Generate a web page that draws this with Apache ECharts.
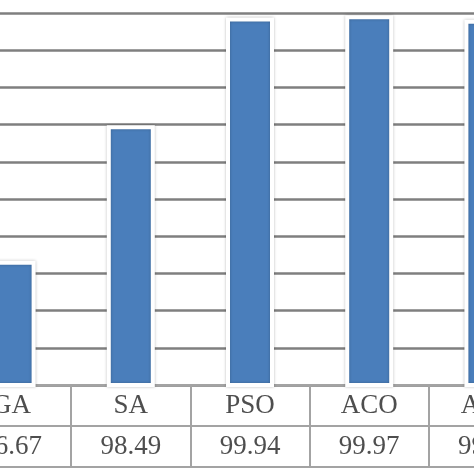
<!DOCTYPE html>
<html>
<head>
<meta charset="utf-8">
<script src="https://cdn.jsdelivr.net/npm/echarts@6/dist/echarts.min.js"></script>
<style>
  html, body { margin: 0; padding: 0; background: #fff; }
  #main { width: 474px; height: 474px; }
</style>
</head>
<body>
<div id="main"></div>
<script>
// data
var categories = ['GA', 'SA', 'PSO', 'ACO', 'ABC'];
var values = [96.67, 98.49, 99.94, 99.97, 99.91];
var valueLabels = ['96.67', '98.49', '99.94', '99.97', '99.91'];

var chart = echarts.init(document.getElementById('main'));

// text cells of the table under the bars
var cells = [];
for (var i = 0; i < categories.length; i++) {
    cells.push([i + 0.5, 0.5, categories[i]]);
    cells.push([i + 0.5, 1.5, valueLabels[i]]);
}

var tableLine = { color: '#a3a3a3', width: 2 };

var option = {
    animation: false,
    backgroundColor: '#fff',
    grid: [
        { left: -48, width: 596, top: 13, height: 372, outerBoundsMode: 'none' }, // bars
        { left: -48, width: 596, top: 385, height: 82, outerBoundsMode: 'none' }  // table
    ],
    xAxis: [
        {
            gridIndex: 0, type: 'category', data: categories,
            axisLine: { show: false }, axisTick: { show: false }, axisLabel: { show: false }
        },
        {
            gridIndex: 1, type: 'value', min: 0, max: 5, interval: 1,
            axisLine: { show: false }, axisTick: { show: false }, axisLabel: { show: false },
            splitLine: { show: true, lineStyle: tableLine }
        }
    ],
    yAxis: [
        {
            gridIndex: 0, type: 'value', min: 95, max: 100, interval: 0.5,
            axisLine: { show: false }, axisTick: { show: false }, axisLabel: { show: false },
            splitLine: { show: true, lineStyle: { color: '#7f7f7f', width: 2.5 } }
        },
        {
            gridIndex: 1, type: 'value', min: 0, max: 2, interval: 1, inverse: true,
            axisLine: { show: false }, axisTick: { show: false }, axisLabel: { show: false },
            splitLine: { show: true, lineStyle: tableLine }
        }
    ],
    series: [
        {
            type: 'bar', xAxisIndex: 0, yAxisIndex: 0,
            data: values,
            barWidth: 48,
            itemStyle: {
                color: '#4a7ebb',
                borderColor: '#fff',
                borderWidth: 4,
                shadowColor: 'rgba(0,0,0,0.25)',
                shadowBlur: 3
            }
        },
        {
            type: 'scatter', xAxisIndex: 1, yAxisIndex: 1,
            data: cells,
            symbolSize: 1,
            itemStyle: { color: 'rgba(0,0,0,0)' },
            label: {
                show: true, position: 'inside',
                formatter: function (p) { return p.value[2]; },
                fontFamily: 'Liberation Serif', fontSize: 27, color: '#222'
            }
        }
    ]
};

chart.setOption(option);
</script>
</body>
</html>
